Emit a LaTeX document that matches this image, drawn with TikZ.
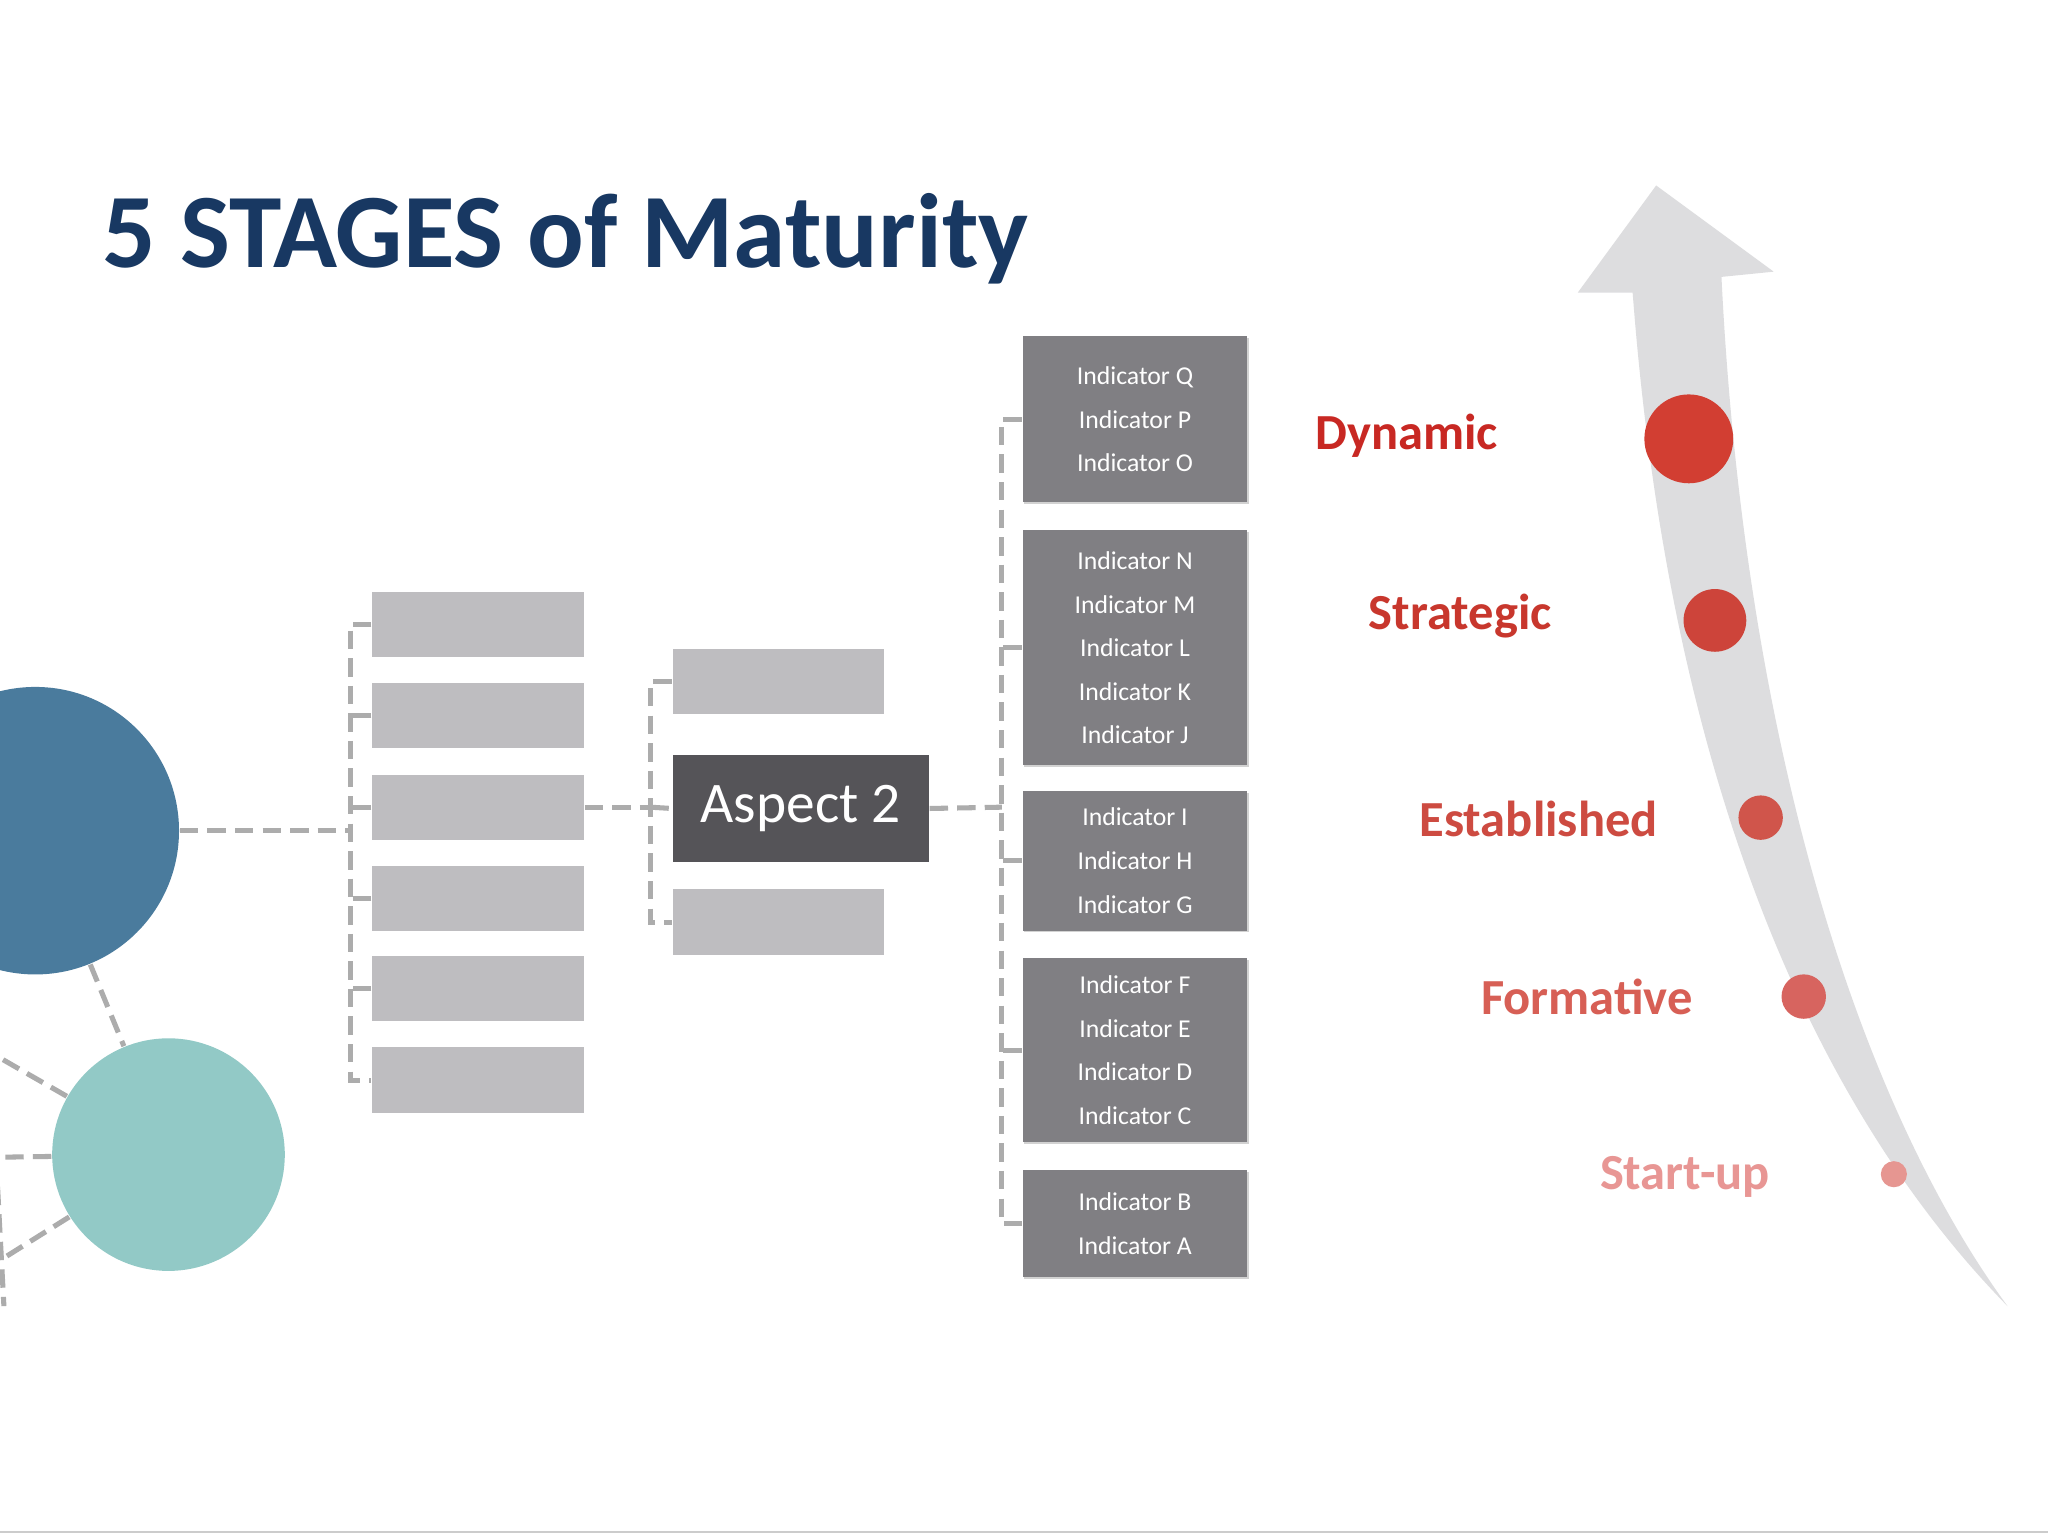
\documentclass[tikz,border=0pt]{standalone}
\usepackage{fontspec}
\setmainfont{Carlito}
\usetikzlibrary{positioning, calc, shadows}
\definecolor{titleblue}{RGB}{24,56,98}
\definecolor{dashgray}{RGB}{172,172,172}
\definecolor{lightbox}{RGB}{190,189,192}
\definecolor{indbox}{RGB}{128,127,131}
\definecolor{aspectbox}{RGB}{85,84,88}
\definecolor{bigblue}{RGB}{74,123,157}
\definecolor{teal}{RGB}{146,201,198}
\definecolor{arrowgray}{RGB}{221,221,223}
\begin{document}
\begin{tikzpicture}[
        x=0.01cm, y=-0.01cm,
        link/.style={dashgray, dashed, line width=1.1pt, dash pattern=on 4pt off 2pt},
        blank/.style={rectangle, fill=lightbox, minimum width=1.62cm, minimum height=0.5cm, inner sep=0pt},
        subblank/.style={blank},
        indicator/.style={rectangle, fill=indbox, minimum width=1.72cm, inner sep=0pt, align=center,
                     text=white, font=\fontsize{5.6}{9.5}\selectfont,
                     drop shadow={shadow xshift=0.4pt, shadow yshift=-0.4pt, opacity=0.35}},
        stage/.style={font=\fontsize{11}{13}\selectfont\bfseries},
        dot/.style={circle, inner sep=0pt}
    ]
        \useasboundingbox (0,0) rectangle (1568,1176);
        \fill[white] (0,0) rectangle (1568,1176);
        \draw[gray!40, line width=0.6pt] (0,1173) -- (1568,1173);

        % Title
        \node[anchor=base west, text=titleblue, font=\fontsize{23}{26}\selectfont\bfseries, inner sep=0pt] (title) at (78,205) {5 STAGES of Maturity};

        % Growth arrow
        \fill[arrowgray] (1537,1000) .. controls (1400,860) and (1280,620) .. (1250,224)
            -- (1208,224) -- (1268,142) -- (1358,208) -- (1318,212)
            .. controls (1335,560) and (1420,840) .. (1537,1000) -- cycle;

        % Circles
        \node[dot, fill=bigblue, minimum size=2.2cm] (core) at (27,636) {};
        \node[dot, fill=teal, minimum size=1.78cm] (side) at (129,884) {};
        \coordinate (e1) at (0,810);
        \coordinate (e2) at (0,886);
        \coordinate (e3) at (0,965);
        \coordinate (e4) at (3,1000);
        \draw[link] (side) -- (e1);
        \draw[link] (side) -- (e2);
        \draw[link] (side) -- (e3);
        \draw[link] (core) -- (side);
        \draw[link] (core.250) -- (e4);

        % Aspect column
        \foreach \n/\y in {1/478, 2/548, 3/618, 4/688, 5/757, 6/827}
            \node[blank] (asp\n) at (366,\y) {};
        \coordinate (busA) at (268,636);
        \draw[link] (core) -- (busA);
        \draw[link] (asp1.west) -| (busA) |- (asp6.west);
        \foreach \n in {2,...,5}
            \draw[link] (asp\n.west) -- (asp\n.west -| busA);

        % Sub-aspect column
        \node[subblank] (sub1) at (596,522) {};
        \node[rectangle, fill=aspectbox, minimum width=1.96cm, minimum height=0.82cm, text=white,
              font=\fontsize{12.5}{14}\selectfont] (aspect) at (613,619) {Aspect 2};
        \node[subblank] (sub2) at (596,706) {};
        \coordinate (busB) at (498,618);
        \draw[link] (asp3.east) -- (busB);
        \draw[link] (sub1.west) -| (busB) |- (sub2.west);
        \draw[link] (busB) -- (aspect.west);

        % Indicators
        \node[indicator, minimum height=1.27cm] (indQ) at (869,321) {Indicator Q\\Indicator P\\Indicator O};
        \node[indicator, minimum height=1.80cm] (indN) at (869,496) {Indicator N\\Indicator M\\Indicator L\\Indicator K\\Indicator J};
        \node[indicator, minimum height=1.07cm] (indI) at (869,659) {Indicator I\\Indicator H\\Indicator G};
        \node[indicator, minimum height=1.41cm] (indF) at (869,804) {Indicator F\\Indicator E\\Indicator D\\Indicator C};
        \node[indicator, minimum height=0.82cm] (indB) at (869,937) {Indicator B\\Indicator A};
        \coordinate (busC) at (767,618);
        \draw[link] (aspect.east) -- (busC);
        \draw[link] (indQ.west) -| (busC) |- (indB.west);
        \foreach \n in {N,I,F}
            \draw[link] (ind\n.west) -- (ind\n.west -| busC);

        % Stages
        \node[stage, text={rgb,255:red,200;green,40;blue,35}] (dynamic) at (1077,334) {Dynamic};
        \node[stage, text={rgb,255:red,200;green,55;blue,45}] (strategic) at (1118,472) {Strategic};
        \node[stage, text={rgb,255:red,205;green,75;blue,65}] (established) at (1178,627) {Established};
        \node[stage, text={rgb,255:red,215;green,95;blue,85}] (formative) at (1215,763) {Formative};
        \node[stage, text={rgb,255:red,232;green,150;blue,148}] (startup) at (1290,901) {Start-up};
        \node[dot, fill={rgb,255:red,210;green,62;blue,50}, minimum size=0.68cm] (d1) at (1293,336) {};
        \node[dot, fill={rgb,255:red,205;green,68;blue,58}, minimum size=0.48cm] (d2) at (1313,475) {};
        \node[dot, fill={rgb,255:red,208;green,85;blue,75}, minimum size=0.34cm] (d3) at (1348,626) {};
        \node[dot, fill={rgb,255:red,215;green,100;blue,95}, minimum size=0.34cm] (d4) at (1381,763) {};
        \node[dot, fill={rgb,255:red,230;green,150;blue,145}, minimum size=0.2cm] (d5) at (1450,899) {};
\end{tikzpicture}
\end{document}
